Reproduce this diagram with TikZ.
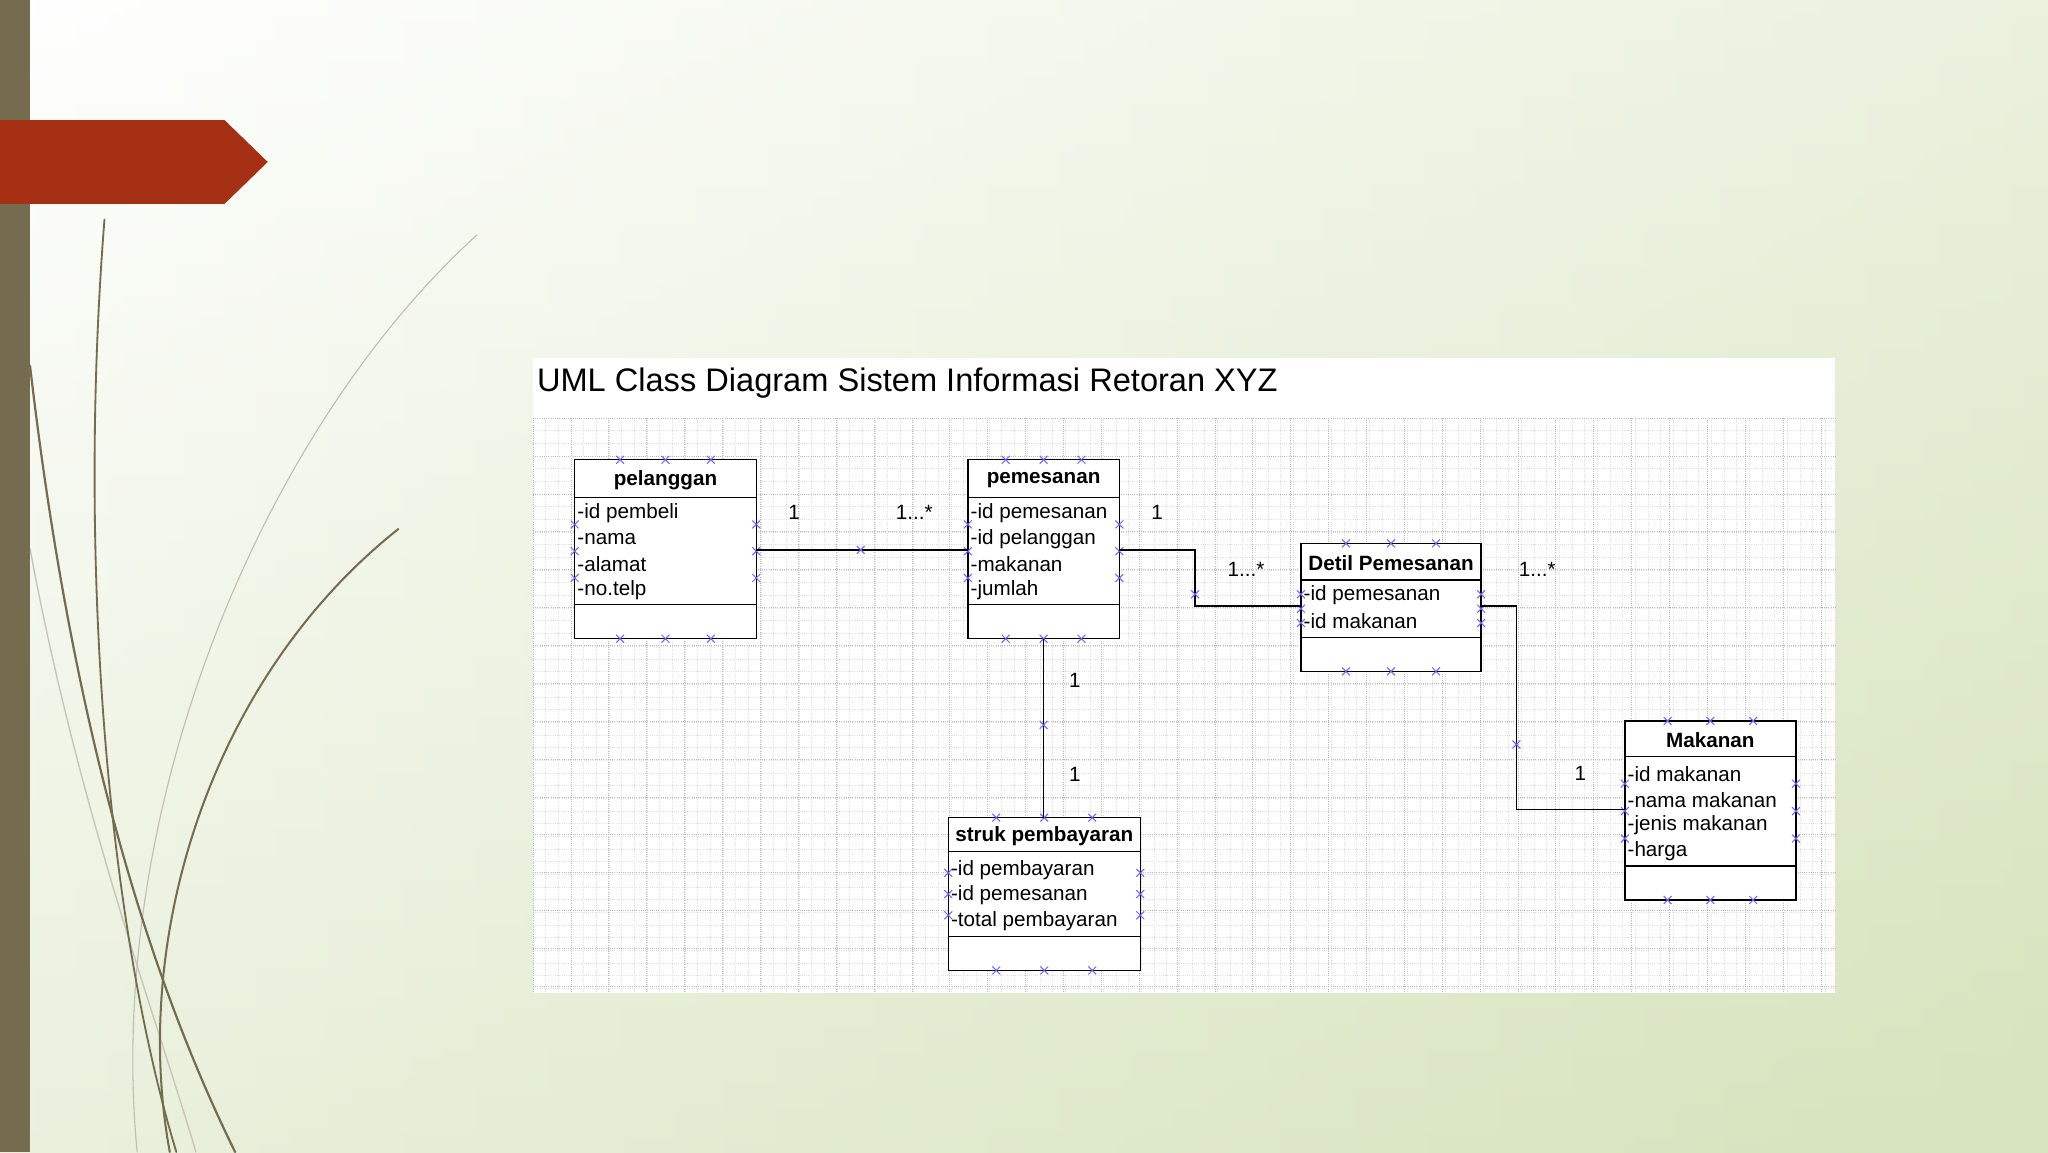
\documentclass[tikz,border=0pt]{standalone}
\usepackage{fontspec}
\setmainfont{Liberation Sans}
\begin{document}
\begin{tikzpicture}[x=0.05cm,y=-0.05cm,
  box/.style={draw=black,line width=1.6pt},
  conn/.style={draw=black,line width=1.4pt},
  itm/.style={anchor=west,inner sep=0pt,font=\fontsize{22.5}{24}\selectfont},
  hdr/.style={inner sep=0pt,font=\fontsize{22.5}{24}\selectfont\bfseries},
  mult/.style={inner sep=0pt,font=\fontsize{22.5}{24}\selectfont},
  mk/.style={draw=blue!60!white,line width=1.1pt}]
\definecolor{bgg}{HTML}{D6E3BC}
\definecolor{olive}{HTML}{756B4F}
\definecolor{arrowred}{HTML}{A53014}
\useasboundingbox (0,0) rectangle (1568,882);
\shade[left color=white,right color=bgg] (0,0) rectangle (1568,882);
\shade[top color=white,bottom color=bgg,opacity=0.5] (0,0) rectangle (1568,882);
\begin{scope}[line cap=round]
\draw[olive!45,line width=1.2pt] (365,180) .. controls (200,330) and (80,620) .. (105,882);
\draw[olive!40,line width=1.5pt] (23,420) .. controls (60,620) and (120,780) .. (150,882);
\draw[olive,line width=2pt] (80,168) .. controls (60,420) and (80,700) .. (135,882);
\draw[olive,line width=2.2pt] (305,405) .. controls (160,520) and (100,720) .. (130,882);
\draw[olive,line width=2.4pt] (23,280) .. controls (60,600) and (130,780) .. (180,882);
\end{scope}
\fill[olive] (0,0) rectangle (23,882);
\fill[arrowred] (0,92) -- (172,92) -- (205,124) -- (172,156) -- (0,156) -- cycle;
\fill[white] (408,274) rectangle (1405,760);
\node[anchor=base west,inner sep=0pt,font=\fontsize{35.5}{40}\selectfont] (title) at (411,300) {UML Class Diagram Sistem Informasi Retoran XYZ};
\foreach \x in {408,417.7,...,1405} \draw[gray!25,dotted] (\x,320) -- (\x,760);
\foreach \y in {320,329.7,...,760} \draw[gray!25,dotted] (408,\y) -- (1405,\y);
\foreach \x in {408,437,...,1405} \draw[gray!55,dotted] (\x,320) -- (\x,760);
\foreach \y in {320,349,...,760} \draw[gray!55,dotted] (408,\y) -- (1405,\y);
\newcommand{\umlbox}[8]{%
  \fill[white] (#2,#3) rectangle (#4,#5);
  \draw[box] (#2,#3) rectangle (#4,#5);
  \draw[box] (#2,#6) -- (#4,#6);
  \draw[box] (#2,#7) -- (#4,#7);
  \node[hdr] (#1) at ({(#2+#4)/2},{(#3+#6)/2+1}) {#8};
  \foreach \f in {0.25,0.5,0.75}{
    \draw[mk] ({#2+\f*(#4-#2)-3},#3-3) -- ++(6,6) ({#2+\f*(#4-#2)-3},#3+3) -- ++(6,-6);
    \draw[mk] ({#2+\f*(#4-#2)-3},#5-3) -- ++(6,6) ({#2+\f*(#4-#2)-3},#5+3) -- ++(6,-6);
    \draw[mk] (#2-3,{#6+\f*(#7-#6)-3}) -- ++(6,6) (#2-3,{#6+\f*(#7-#6)+3}) -- ++(6,-6);
    \draw[mk] (#4-3,{#6+\f*(#7-#6)-3}) -- ++(6,6) (#4-3,{#6+\f*(#7-#6)+3}) -- ++(6,-6);
  }
}
\umlbox{pel}{440}{352}{579}{489}{381}{463}{pelanggan}
\node[itm] (pel1) at (442,393) {-id pembeli};
\node[itm] (pel2) at (442,412.5) {-nama};
\node[itm] (pel3) at (442,432) {-alamat};
\node[itm] (pel4) at (442,451.5) {-no.telp};
\umlbox{pem}{741}{352}{857}{489}{381}{463}{pemesanan}
\node[itm] (pem1) at (743,393) {-id pemesanan};
\node[itm] (pem2) at (743,412.5) {-id pelanggan};
\node[itm] (pem3) at (743,432) {-makanan};
\node[itm] (pem4) at (743,451.5) {-jumlah};
\umlbox{det}{996}{416}{1134}{514}{444}{488}{Detil Pemesanan}
\node[itm] (det1) at (998,456) {-id pemesanan};
\node[itm] (det2) at (998,475.5) {-id makanan};
\umlbox{mak}{1244}{552}{1375}{689}{579}{663}{Makanan}
\node[itm] (mak1) at (1246,593) {-id makanan};
\node[itm] (mak2) at (1246,612.5) {-nama makanan};
\node[itm] (mak3) at (1246,632) {-jenis makanan};
\node[itm] (mak4) at (1246,651.5) {-harga};
\umlbox{str}{726}{626}{873}{743}{652}{717}{struk pembayaran}
\node[itm] (str1) at (728,666) {-id pembayaran};
\node[itm] (str2) at (728,685.5) {-id pemesanan};
\node[itm] (str3) at (728,705) {-total pembayaran};
\coordinate (a1) at (579,421); \coordinate (a2) at (741,421);
\draw[conn] (a1) -- (a2);
\coordinate (b1) at (857,421); \coordinate (b2) at (996,464);
\draw[conn] (b1) -- (915,421) -- (915,464) -- (b2);
\coordinate (c1) at (1134,464); \coordinate (c2) at (1244,620);
\draw[conn] (c1) -- (1161,464) -- (1161,620) -- (c2);
\coordinate (d1) at (799,489); \coordinate (d2) at (799,626);
\draw[conn] (d1) -- (d2);
\foreach \p in {(659,421),(915,455),(1161,570),(799,555)}
  \draw[mk] \p ++(-3,-3) -- ++(6,6) ++(-6,0) -- ++(6,-6);
\node[mult] (m1) at (608,392) {1};
\node[mult] (m2) at (700,392) {1...*};
\node[mult] (m3) at (886,392) {1};
\node[mult] (m4) at (954,436) {1...*};
\node[mult] (m5) at (1177,436) {1...*};
\node[mult] (m6) at (1210,592) {1};
\node[mult] (m7) at (823,521) {1};
\node[mult] (m8) at (823,593) {1};
\end{tikzpicture}
\end{document}
